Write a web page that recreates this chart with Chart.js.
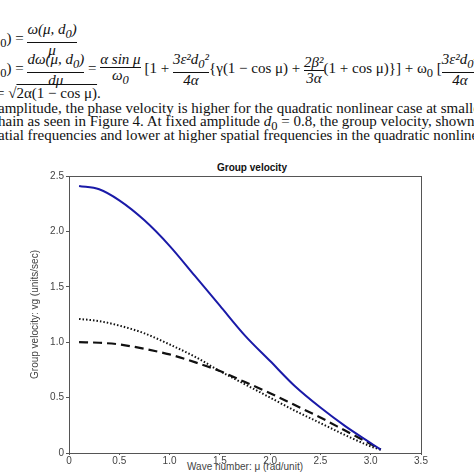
<!DOCTYPE html>
<html><head><meta charset="utf-8">
<script src="https://cdn.jsdelivr.net/npm/chart.js@4"></script>
<style>
body{margin:0;background:#fff;width:474px;height:474px;overflow:hidden;position:relative;font-family:"Liberation Serif","DejaVu Serif",serif;}
#wrap{position:absolute;left:0;top:0;width:474px;height:474px;}
.t{position:absolute;white-space:nowrap;font-size:15px;line-height:15px;color:#111;}
.fr{display:inline-block;text-align:center;vertical-align:middle;font-style:italic}
.fr span{display:block;line-height:15px}
.fr .n{border-bottom:1px solid #111}
#title{position:absolute;top:162px;left:0;width:474px;text-align:center;padding-left:30px;box-sizing:border-box;font:bold 10px "Liberation Sans",Arial,sans-serif;color:#111}
#xt{position:absolute;top:461px;left:0;width:474px;text-align:center;padding-left:16px;box-sizing:border-box;font:10px "Liberation Sans",Arial,sans-serif;color:#444}
</style></head><body>
<div class="t" style="left:-4px;top:22px">l<sub>0</sub>) = <span class="fr"><span class="n">ω(μ, d<sub>0</sub>)</span><span>μ</span></span></div>
<div class="t" style="left:-4px;top:52px">l<sub>0</sub>) = <span class="fr"><span class="n">dω(μ, d<sub>0</sub>)</span><span>dμ</span></span> = <span class="fr"><span class="n">α sin μ</span><span>ω<sub>0</sub></span></span> [1 + <span class="fr"><span class="n">3ε²d<sub>0</sub>²</span><span>4α</span></span>{γ(1 − cos μ) + <span class="fr"><span class="n">2β²</span><span>3α</span></span>(1 + cos μ)}] + ω<sub>0</sub> [<span class="fr"><span class="n">3ε²d<sub>0</sub>²</span><span>4α</span></span> sin μ{γ − <span class="fr"><span class="n">2β²</span><span>3α</span></span></div>
<div class="t" style="left:-4px;top:86px">= √<span style="text-decoration:overline">2α(1 − cos μ)</span>.</div>
<div class="t" style="left:-2px;top:101px">amplitude, the phase velocity is higher for the quadratic nonlinear case at smaller wave numbers as cor</div>
<div class="t" style="left:-2px;top:114px">hain as seen in Figure 4. At fixed amplitude <i>d</i><sub>0</sub> = 0.8, the group velocity, shown in Figure 5, is found to</div>
<div class="t" style="left:-2px;top:128px">atial frequencies and lower at higher spatial frequencies in the quadratic nonlinear case as compared to</div>
<div id="title">Group velocity</div>
<div id="xt">Wave number: μ (rad/unit)</div>
<div id="wrap"><canvas id="c" width="474" height="474"></canvas></div>
<script>
const mu =      [0.1, 0.3, 0.5, 0.75, 1.0, 1.25, 1.5, 1.75, 2.0, 2.25, 2.5, 2.75, 3.0, 3.1];
const quad =    [2.41,2.38,2.28,2.10, 1.87,1.60, 1.33,1.06, 0.83,0.60, 0.41,0.24, 0.09,0.03];
const cubic =   [1.21,1.19,1.15,1.08, 0.98,0.87, 0.74,0.62, 0.50,0.38, 0.27,0.16, 0.06,0.03];
const linear =  [1.00,0.995,0.98,0.94,0.89,0.82, 0.74,0.64, 0.54,0.43, 0.32,0.20, 0.08,0.03];
const xTicks = [0,0.5,1,1.5,2,2.5,3,3.5];
const pts = a => a.map((v,i)=>({x:mu[i],y:v}));
const font = {family:'"Liberation Sans",Arial,sans-serif',size:10};
const axCol = '#555';
new Chart(document.getElementById('c'),{
  type:'line',
  data:{datasets:[
    {data:pts(quad),borderColor:'#1a1aa8',borderWidth:2,pointRadius:0,cubicInterpolationMode:'monotone'},
    {data:pts(cubic),borderColor:'#111',borderWidth:2,borderDash:[1.5,2],pointRadius:0,cubicInterpolationMode:'monotone'},
    {data:pts(linear),borderColor:'#111',borderWidth:2.2,borderDash:[9,5],pointRadius:0,cubicInterpolationMode:'monotone'}
  ]},
  options:{
    responsive:false,animation:false,
    layout:{padding:{left:29,right:53,top:176,bottom:0}},
    plugins:{legend:{display:false},tooltip:{enabled:false}},
    scales:{
      x:{type:'linear',min:0,max:3.5,afterBuildTicks:s=>{s.ticks=xTicks.map(v=>({value:v}));},
        afterFit:s=>{s.height=21;},
        grid:{drawOnChartArea:false,tickLength:2,color:axCol},border:{color:axCol},
        ticks:{font,color:'#444',padding:0,maxRotation:0}},
      y:{min:0,max:2.5,afterFit:s=>{s.width=40;},
        grid:{drawOnChartArea:false,tickLength:3,color:axCol},border:{color:axCol},
        ticks:{stepSize:0.5,font,color:'#444',padding:2},
        title:{display:true,text:'Group velocity: vg (units/sec)',font,color:'#444',padding:0}},
      x2:{type:'linear',position:'top',min:0,max:3.5,afterFit:s=>{s.height=0;},grid:{display:false},border:{color:axCol},ticks:{display:false}},
      y2:{position:'right',min:0,max:2.5,afterFit:s=>{s.width=0;},grid:{display:false},border:{color:axCol},ticks:{display:false}}
    }
  }
});
</script>
</body></html>
